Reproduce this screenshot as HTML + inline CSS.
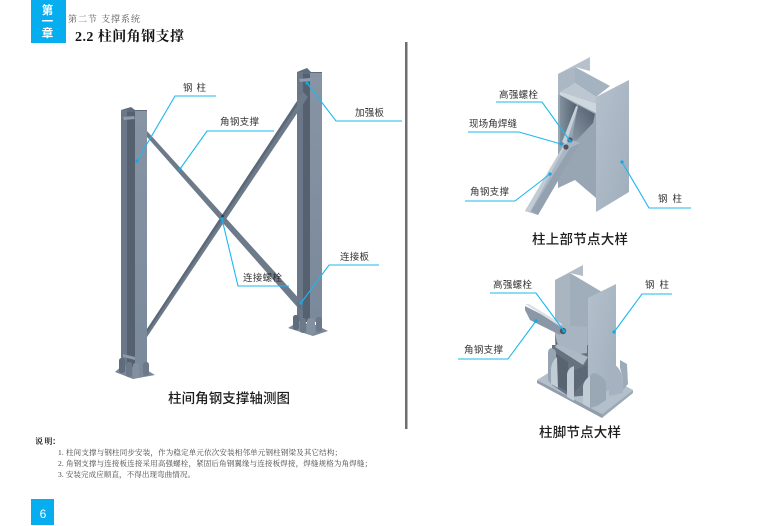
<!DOCTYPE html>
<html><head><meta charset="utf-8">
<style>
html,body{margin:0;padding:0;background:#fff}
svg{display:block}
.s{font-family:"Liberation Sans","Noto Sans CJK SC",sans-serif;fill:#333;font-size:9.5px}
.c{font-family:"Liberation Sans","Noto Sans CJK SC",sans-serif;fill:#1c1c1c;font-size:13.5px;font-weight:500}
.t{font-family:"Liberation Serif","Noto Serif CJK SC",serif}
.l{fill:none;stroke:#1bb8ee;stroke-width:1.1}
.d{fill:#0fa9e6}
</style></head><body>
<svg width="760" height="526" viewBox="0 0 760 526" xmlns="http://www.w3.org/2000/svg">
<defs>
<linearGradient id="f" x1="0" y1="0" x2="0" y2="1"><stop offset="0" stop-color="#8794a4"/><stop offset="1" stop-color="#7a899b"/></linearGradient>
<linearGradient id="g1" x1="0" y1="0" x2="1" y2="1"><stop offset="0" stop-color="#b4c0cc"/><stop offset="1" stop-color="#a0aebc"/></linearGradient>
<linearGradient id="g2" x1="1" y1="0" x2="0" y2="1"><stop offset="0" stop-color="#4f5b6a"/><stop offset="1" stop-color="#8c9aaa"/></linearGradient>
<linearGradient id="g3" x1="0" y1="0" x2="1" y2="0"><stop offset="0" stop-color="#84919f"/><stop offset="1" stop-color="#515d6b"/></linearGradient>
</defs>
<rect width="760" height="526" fill="#fff"/>

<!-- header -->
<rect x="31" y="0" width="35" height="43" fill="#06aeef"/>
<g class="s" style="fill:#fff;font-size:11.5px;font-weight:700" text-anchor="middle">
<text x="47.500" y="14" style="fill:#fff">第</text>
<text x="47.500" y="25" style="fill:#fff">一</text>
<text x="47.500" y="37" style="fill:#fff">章</text>
</g>
<text class="t" x="68" y="22" font-size="9" fill="#555" textLength="72">第二节 支撑系统</text>
<text class="t" x="75" y="41" font-size="14" font-weight="700" fill="#111" textLength="109">2.2 柱间角钢支撑</text>

<!-- divider -->
<rect x="405" y="42" width="2.500" height="387" fill="#6f6f6f"/>

<!-- braces behind columns -->
<polygon points="147,131 147,137 299,309 303,303" fill="#6d7a89"/>
<polygon points="303,92 308,97 147,337 147,329" fill="#6d7a89"/>
<polygon points="303,92 305,94 147,333 147,329" fill="#5d6978"/>
<circle cx="222.500" cy="216" r="1.300" fill="#2e3742"/>

<!-- left column -->
<polygon points="121,110 131,107 135,110 147,110 147,372 121,372" fill="#5f6c7d"/>
<rect x="121" y="110" width="6" height="262" fill="#6a7788"/>
<rect x="127" y="112" width="8" height="260" fill="#55616f"/>
<rect x="135" y="111" width="12" height="261" fill="url(#f)"/>
<polygon points="123,117 134,116 135,119 124,120" fill="#8f9cab"/>
<!-- right column -->
<polygon points="297,72 307,68 311,72 322,72 322,322 297,322" fill="#5f6c7d"/>
<rect x="297" y="72" width="6" height="250" fill="#6a7788"/>
<rect x="303" y="74" width="7" height="248" fill="#55616f"/>
<rect x="310" y="73" width="12" height="249" fill="url(#f)"/>
<polygon points="299,79 310,78 311,81 300,82" fill="#8f9cab"/>
<!-- brace ends on right column -->
<polygon points="297,302 303,304 303,310 299,309" fill="#65717f"/>
<polygon points="297,101 303,92 308,97 297,113" fill="#6d7a89"/>

<!-- left base -->
<polygon points="115,372 133,379 155,375 145,369 123,365" fill="#7a899a"/>
<polygon points="123,354 135,357 135,360 123,357" fill="#8d9aa9"/>
<rect x="119" y="358" width="6" height="15" rx="2.500" fill="#5f6c7c"/>
<rect x="126" y="362" width="6" height="15" rx="2.500" fill="#6c798a"/>
<rect x="133" y="363" width="6" height="15" rx="2.500" fill="#83909f"/>
<rect x="143" y="362" width="6" height="14" rx="2.500" fill="#6c798a"/>
<!-- right base -->
<polygon points="288,328 313,336 328,331 316,325 298,322" fill="#7a899a"/>
<rect x="293" y="315" width="6" height="15" rx="2.500" fill="#5f6c7c"/>
<rect x="300" y="318" width="6" height="15" rx="2.500" fill="#6c798a"/>
<rect x="307" y="318" width="8" height="17" rx="3" fill="#83909f"/>
<rect x="316" y="317" width="6" height="15" rx="2.500" fill="#6c798a"/>

<!-- top detail -->
<polygon points="558,74 590,57 590,71 575,67 558,76" fill="#b6c1cc"/>
<polygon points="558,74 575,67 575,83 563,92 563,184 558,188" fill="#abb7c3"/>
<polygon points="575,67 610,86 596,97 575,83" fill="#a5b2bf"/>
<polygon points="560,95 596,110 596,198 575,180 558,188 558,95" fill="#98a6b4"/>
<polygon points="560,95 577,105 563,145 560,145" fill="url(#g3)"/>
<polygon points="578,105 595,114 593,123 577,140 571,143" fill="url(#g2)"/>
<polygon points="560,92 575,83 596,97 596,104" fill="#bcc7d1"/>
<polygon points="560,92 596,104 596,113 560,95" fill="#cfd7de"/>
<polygon points="576,106 578,107 566,144 562,142" fill="#c6d0d9"/>
<polygon points="596,97 629,80 629,192 596,212" fill="url(#g1)"/>
<polygon points="525,211 538,215 580,143 568,138" fill="#aab6c3"/>
<polygon points="525,211 530,212 566,145 568,138" fill="#c3ccd5"/>
<polygon points="531,211 538,215 580,143 570,148" fill="#93a1b0"/>
<circle cx="566" cy="147" r="2.600" fill="#4a5560"/>
<circle cx="570" cy="140" r="2.600" fill="#4a5560"/>

<!-- bottom detail -->
<polygon points="537,380 572,358 633,390 602,414" fill="#b3bfca"/>
<polygon points="537,380 602,414 602,418 537,383" fill="#8f9dac"/>
<polygon points="602,414 633,390 633,393 602,418" fill="#9ba9b6"/>
<polygon points="555,280 583,265 583,276 570,273 555,282" fill="#b2bdc8"/>
<polygon points="555,280 570,273 570,348 555,348" fill="#a9b5c1"/>
<polygon points="570,273 602,292 602,360 570,345" fill="#a0adba"/>
<!-- backdrop closing gaps below the plate -->
<polygon points="552,345 590,345 590,395 570,397 552,385" fill="#66727f"/>
<!-- gusset and plate -->
<polygon points="562,325 587,327 587,353 572,355 557,343" fill="#a8b4c1"/>
<polygon points="555,333 557,343 560,346 556,347" fill="#56626f"/>
<polygon points="555,347 557,344 588,357 583,365" fill="#aeb9c5"/>
<!-- brace -->
<polygon points="525,306 562,325 560,335 530,320 525,310" fill="#8997a6"/>
<polygon points="525,304 529,304 562,324 561,327" fill="#dbe1e6"/>
<circle cx="563" cy="331" r="3.200" fill="#4a5560"/>
<!-- dark panels -->
<polygon points="552,351 568,362 568,392 552,383" fill="#58646f"/>
<polygon points="568,373 587,365 587,378 570,397" fill="#5c6876"/>
<!-- rear stiffeners -->
<path d="M548,380 V353 Q548,349 551,348 Q556,349 556,353 V362 Q551,365 551,372 V384 Z" fill="#97a4b2"/>
<path d="M551,384 V368 Q552,361 557,357 L558,388 Z" fill="#c2ccd5"/>
<path d="M567,397 V374 Q568,368 574,366 V401 Z" fill="#c2ccd5"/>
<!-- flange -->
<polygon points="588,298 616,284 616,385 588,404" fill="url(#g1)"/>
<!-- front stiffeners -->
<path d="M583,404 V386 Q584,380 590,376 V408 Z" fill="#c2ccd5"/>
<path d="M590,376 Q592,373 595,373 Q604,377 606,382 V400 L597,406 L590,408 Z" fill="#9aa8b6"/>
<path d="M609,396 V368 L614,364 Q621,369 623,378 V393 Z" fill="#a6b2bf"/>
<polygon points="620,368 620,360 627,364 628,384 623,390 623,378" fill="#9dabb8"/>

<!-- leader lines -->
<polyline class="l" points="137,161 175,96 216,96"/><circle class="d" cx="137" cy="161" r="1.600"/>
<polyline class="l" points="180,169 207,131 274,131"/><circle class="d" cx="180" cy="169" r="1.600"/>
<polyline class="l" points="307,83 336,121 402,121"/><circle class="d" cx="307" cy="83" r="1.600"/>
<polyline class="l" points="222,219 238,286 289,286"/><circle class="d" cx="222" cy="219" r="1.600"/>
<polyline class="l" points="301,303 329,265 379,265"/><circle class="d" cx="301" cy="303" r="1.600"/>

<polyline class="l" points="570,141 542,102 496,102"/><circle class="d" cx="570" cy="141" r="1.600"/>
<polyline class="l" points="561,144 519,132 468,132"/><circle class="d" cx="561" cy="144" r="1.600"/>
<polyline class="l" points="550,174 515,201 465,201"/><circle class="d" cx="550" cy="174" r="1.600"/>
<polyline class="l" points="622,162 649,208 691,208"/><circle class="d" cx="622" cy="162" r="1.600"/>

<polyline class="l" points="564,331 536,293 490,293"/><circle class="d" cx="564" cy="331" r="1.600"/>
<polyline class="l" points="536,321 508,359 458,359"/><circle class="d" cx="536" cy="321" r="1.600"/>
<polyline class="l" points="614,332 642,294 672,294"/><circle class="d" cx="614" cy="332" r="1.600"/>

<!-- labels -->
<text class="s" x="183" y="91" textLength="23">钢 柱</text>
<text class="s" x="220" y="125" textLength="39">角钢支撑</text>
<text class="s" x="355" y="116" textLength="29">加强板</text>
<text class="s" x="243" y="281" textLength="39">连接螺栓</text>
<text class="s" x="340" y="260" textLength="29">连接板</text>
<text class="s" x="499" y="98" textLength="39">高强螺栓</text>
<text class="s" x="469" y="127" textLength="48">现场角焊缝</text>
<text class="s" x="470" y="195" textLength="39">角钢支撑</text>
<text class="s" x="658" y="202" textLength="24">钢 柱</text>
<text class="s" x="493" y="288" textLength="39">高强螺栓</text>
<text class="s" x="464" y="353" textLength="39">角钢支撑</text>
<text class="s" x="645" y="288" textLength="24">钢 柱</text>

<text class="c" x="168" y="403" textLength="122">柱间角钢支撑轴测图</text>
<text class="c" x="532" y="244" textLength="96">柱上部节点大样</text>
<text class="c" x="539" y="437" textLength="82">柱脚节点大样</text>

<!-- notes -->
<text class="t" x="35" y="444" font-size="8" font-weight="700" fill="#222" textLength="25">说 明：</text>
<g class="t" font-size="7.500" fill="#444">
<text x="58" y="455" textLength="284">1. 柱间支撑与钢柱同步安装，作为稳定单元依次安装相邻单元钢柱钢梁及其它结构；</text>
<text x="58" y="466" textLength="314">2. 角钢支撑与连接板连接采用高强螺栓，紧固后角钢翼缘与连接板焊接，焊缝规格为角焊缝；</text>
<text x="58" y="477" textLength="137">3. 安装完成应顺直，不得出现弯曲情况。</text>
</g>

<!-- page number -->
<rect x="31" y="499" width="23" height="26" fill="#06aeef"/>
<text x="43" y="518" text-anchor="middle" font-family="Liberation Sans, sans-serif" font-size="12" fill="#fff">6</text>
</svg>
</body></html>
